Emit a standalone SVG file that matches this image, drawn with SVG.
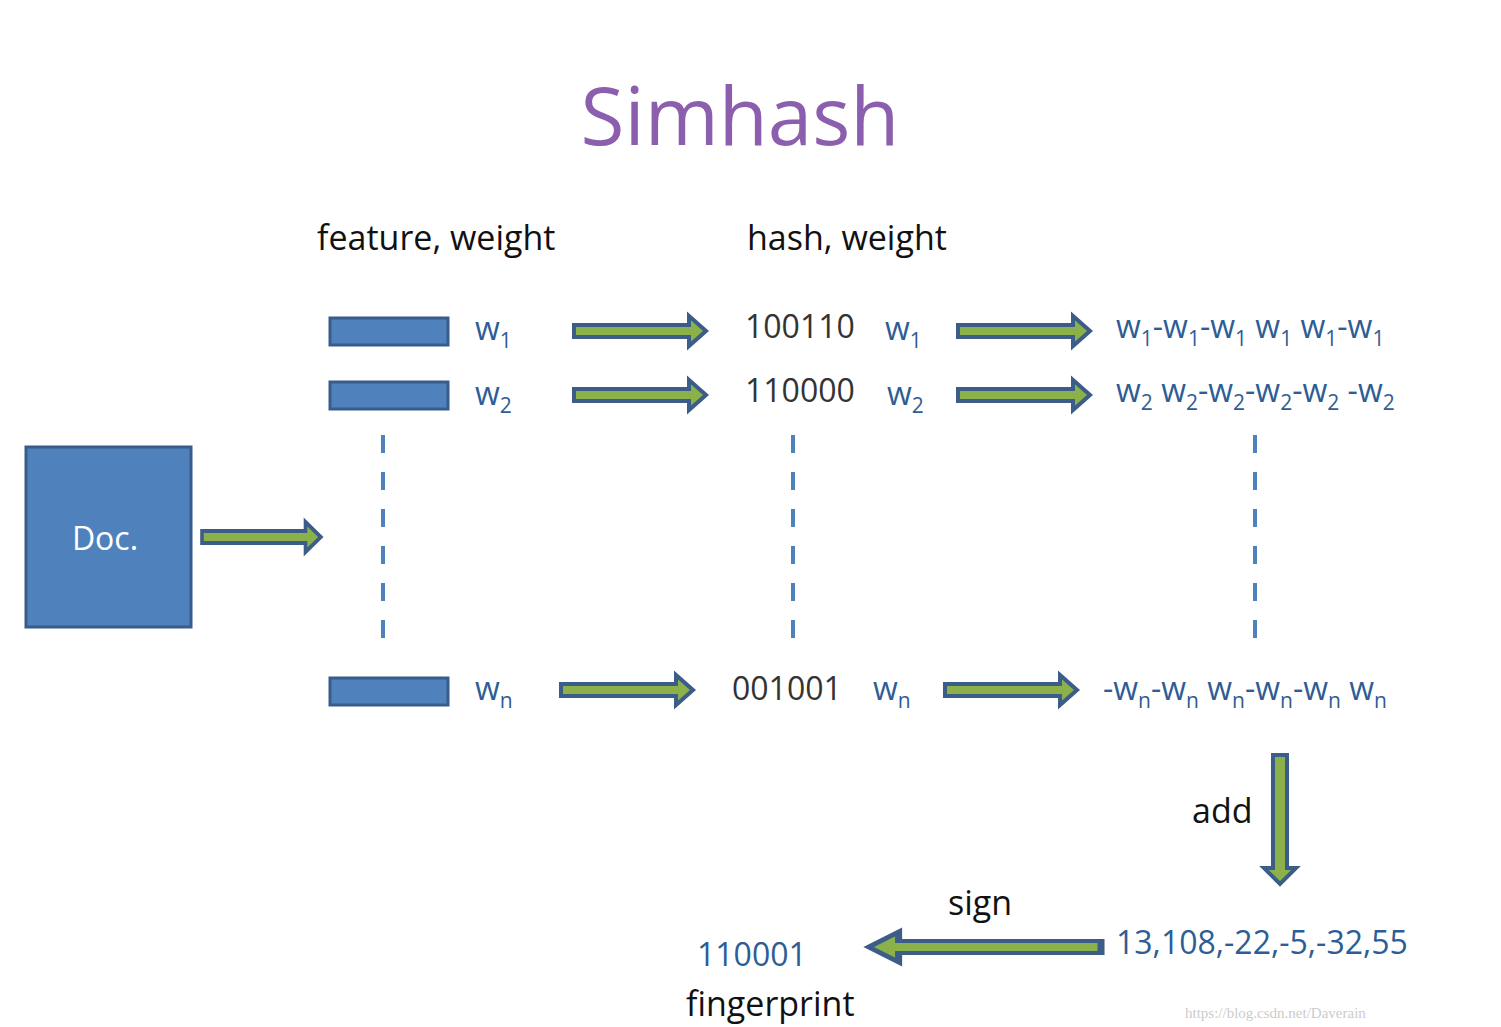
<svg xmlns="http://www.w3.org/2000/svg" width="1501" height="1027" viewBox="0 0 1501 1027">
<style>
.t{font-family:"Open Sans","Noto Sans",sans-serif;font-size:34px;fill:#111}
.b{font-family:"Open Sans","Noto Sans",sans-serif;font-size:32px;fill:#2e5d95}
.g{font-family:"Open Sans","Noto Sans",sans-serif;font-size:32px;fill:#333}
.s{font-size:21px}
.bar{fill:#4f81bd;stroke:#385d8a;stroke-width:3}
.arr{fill:#8cb04a;stroke:#3b5d87;stroke-width:4;stroke-linejoin:miter}
.dash{stroke:#4f81bd;stroke-width:4;stroke-dasharray:18 19}
</style>
<defs>
<path id="ar" class="arr" d="M0,-6 H115 V-15 L132,0 L115,15 V6 H0 Z"/>
</defs>
<rect width="1501" height="1027" fill="#fff"/>
<text x="740" y="145" text-anchor="middle" style="font-family:'Open Sans','Noto Sans',sans-serif;font-size:80px;fill:#8c5fae">Simhash</text>
<text class="t" x="317" y="250">feature, weight</text>
<text class="t" x="747" y="250">hash, weight</text>
<g id="doc"><rect x="26" y="447" width="165" height="180" class="bar"/><text x="105" y="550" text-anchor="middle" style="font-family:'Open Sans','Noto Sans',sans-serif;font-size:32px;fill:#fff">Doc.</text></g>
<g id="f1"><rect x="330" y="318" width="118" height="27" class="bar"/><text class="b" x="475" y="340">w<tspan class="s" dy="8">1</tspan></text></g>
<g id="f2"><rect x="330" y="382" width="118" height="27" class="bar"/><text class="b" x="475" y="405">w<tspan class="s" dy="8">2</tspan></text></g>
<g id="fn"><rect x="330" y="678" width="118" height="27" class="bar"/><text class="b" x="475" y="700">w<tspan class="s" dy="8">n</tspan></text></g>
<g id="h1"><text class="g" x="745" y="338">100110</text><text class="b" x="885" y="340">w<tspan class="s" dy="8">1</tspan></text></g>
<g id="h2"><text class="g" x="745" y="402">110000</text><text class="b" x="887" y="405">w<tspan class="s" dy="8">2</tspan></text></g>
<g id="hn"><text class="g" x="732" y="700">001001</text><text class="b" x="873" y="700">w<tspan class="s" dy="8">n</tspan></text></g>
<g id="v1"><text class="b" x="1116" y="338">w<tspan class="s" dy="8">1</tspan><tspan dy="-8">-w</tspan><tspan class="s" dy="8">1</tspan><tspan dy="-8">-w</tspan><tspan class="s" dy="8">1</tspan><tspan dy="-8"> w</tspan><tspan class="s" dy="8">1</tspan><tspan dy="-8"> w</tspan><tspan class="s" dy="8">1</tspan><tspan dy="-8">-w</tspan><tspan class="s" dy="8">1</tspan></text></g>
<g id="v2"><text class="b" x="1116" y="402">w<tspan class="s" dy="8">2</tspan><tspan dy="-8"> w</tspan><tspan class="s" dy="8">2</tspan><tspan dy="-8">-w</tspan><tspan class="s" dy="8">2</tspan><tspan dy="-8">-w</tspan><tspan class="s" dy="8">2</tspan><tspan dy="-8">-w</tspan><tspan class="s" dy="8">2</tspan><tspan dy="-8"> -w</tspan><tspan class="s" dy="8">2</tspan></text></g>
<g id="vn"><text class="b" x="1103" y="700">-w<tspan class="s" dy="8">n</tspan><tspan dy="-8">-w</tspan><tspan class="s" dy="8">n</tspan><tspan dy="-8"> w</tspan><tspan class="s" dy="8">n</tspan><tspan dy="-8">-w</tspan><tspan class="s" dy="8">n</tspan><tspan dy="-8">-w</tspan><tspan class="s" dy="8">n</tspan><tspan dy="-8"> w</tspan><tspan class="s" dy="8">n</tspan></text></g>
<g id="sum"><text class="b" x="1116" y="954">13,108,-22,-5,-32,55</text></g>
<g id="fp"><text class="b" x="697" y="966">110001</text><text class="t" x="686" y="1016">fingerprint</text></g>
<text class="t" x="1192" y="823">add</text>
<text class="t" x="948" y="915">sign</text>
<g id="connectors">
<line class="dash" x1="383" y1="435" x2="383" y2="652"/>
<line class="dash" x1="793" y1="435" x2="793" y2="652"/>
<line class="dash" x1="1255" y1="435" x2="1255" y2="652"/>
<use href="#ar" transform="translate(202,537) scale(0.9,1)"/>
<use href="#ar" transform="translate(574,331)"/>
<use href="#ar" transform="translate(574,395)"/>
<use href="#ar" transform="translate(561,690)"/>
<use href="#ar" transform="translate(958,331)"/>
<use href="#ar" transform="translate(958,395)"/>
<use href="#ar" transform="translate(945,690)"/>
<path class="arr" d="M1273,755 H1287 V868 H1296 L1280,884 L1264,868 H1273 Z"/>
<use href="#ar" transform="translate(1101,947) scale(-1.76,1)"/>
</g>
<text x="1185" y="1018" style="font-family:'Liberation Serif',serif;font-size:15px;fill:#ccc">https://blog.csdn.net/Daverain</text>
</svg>
